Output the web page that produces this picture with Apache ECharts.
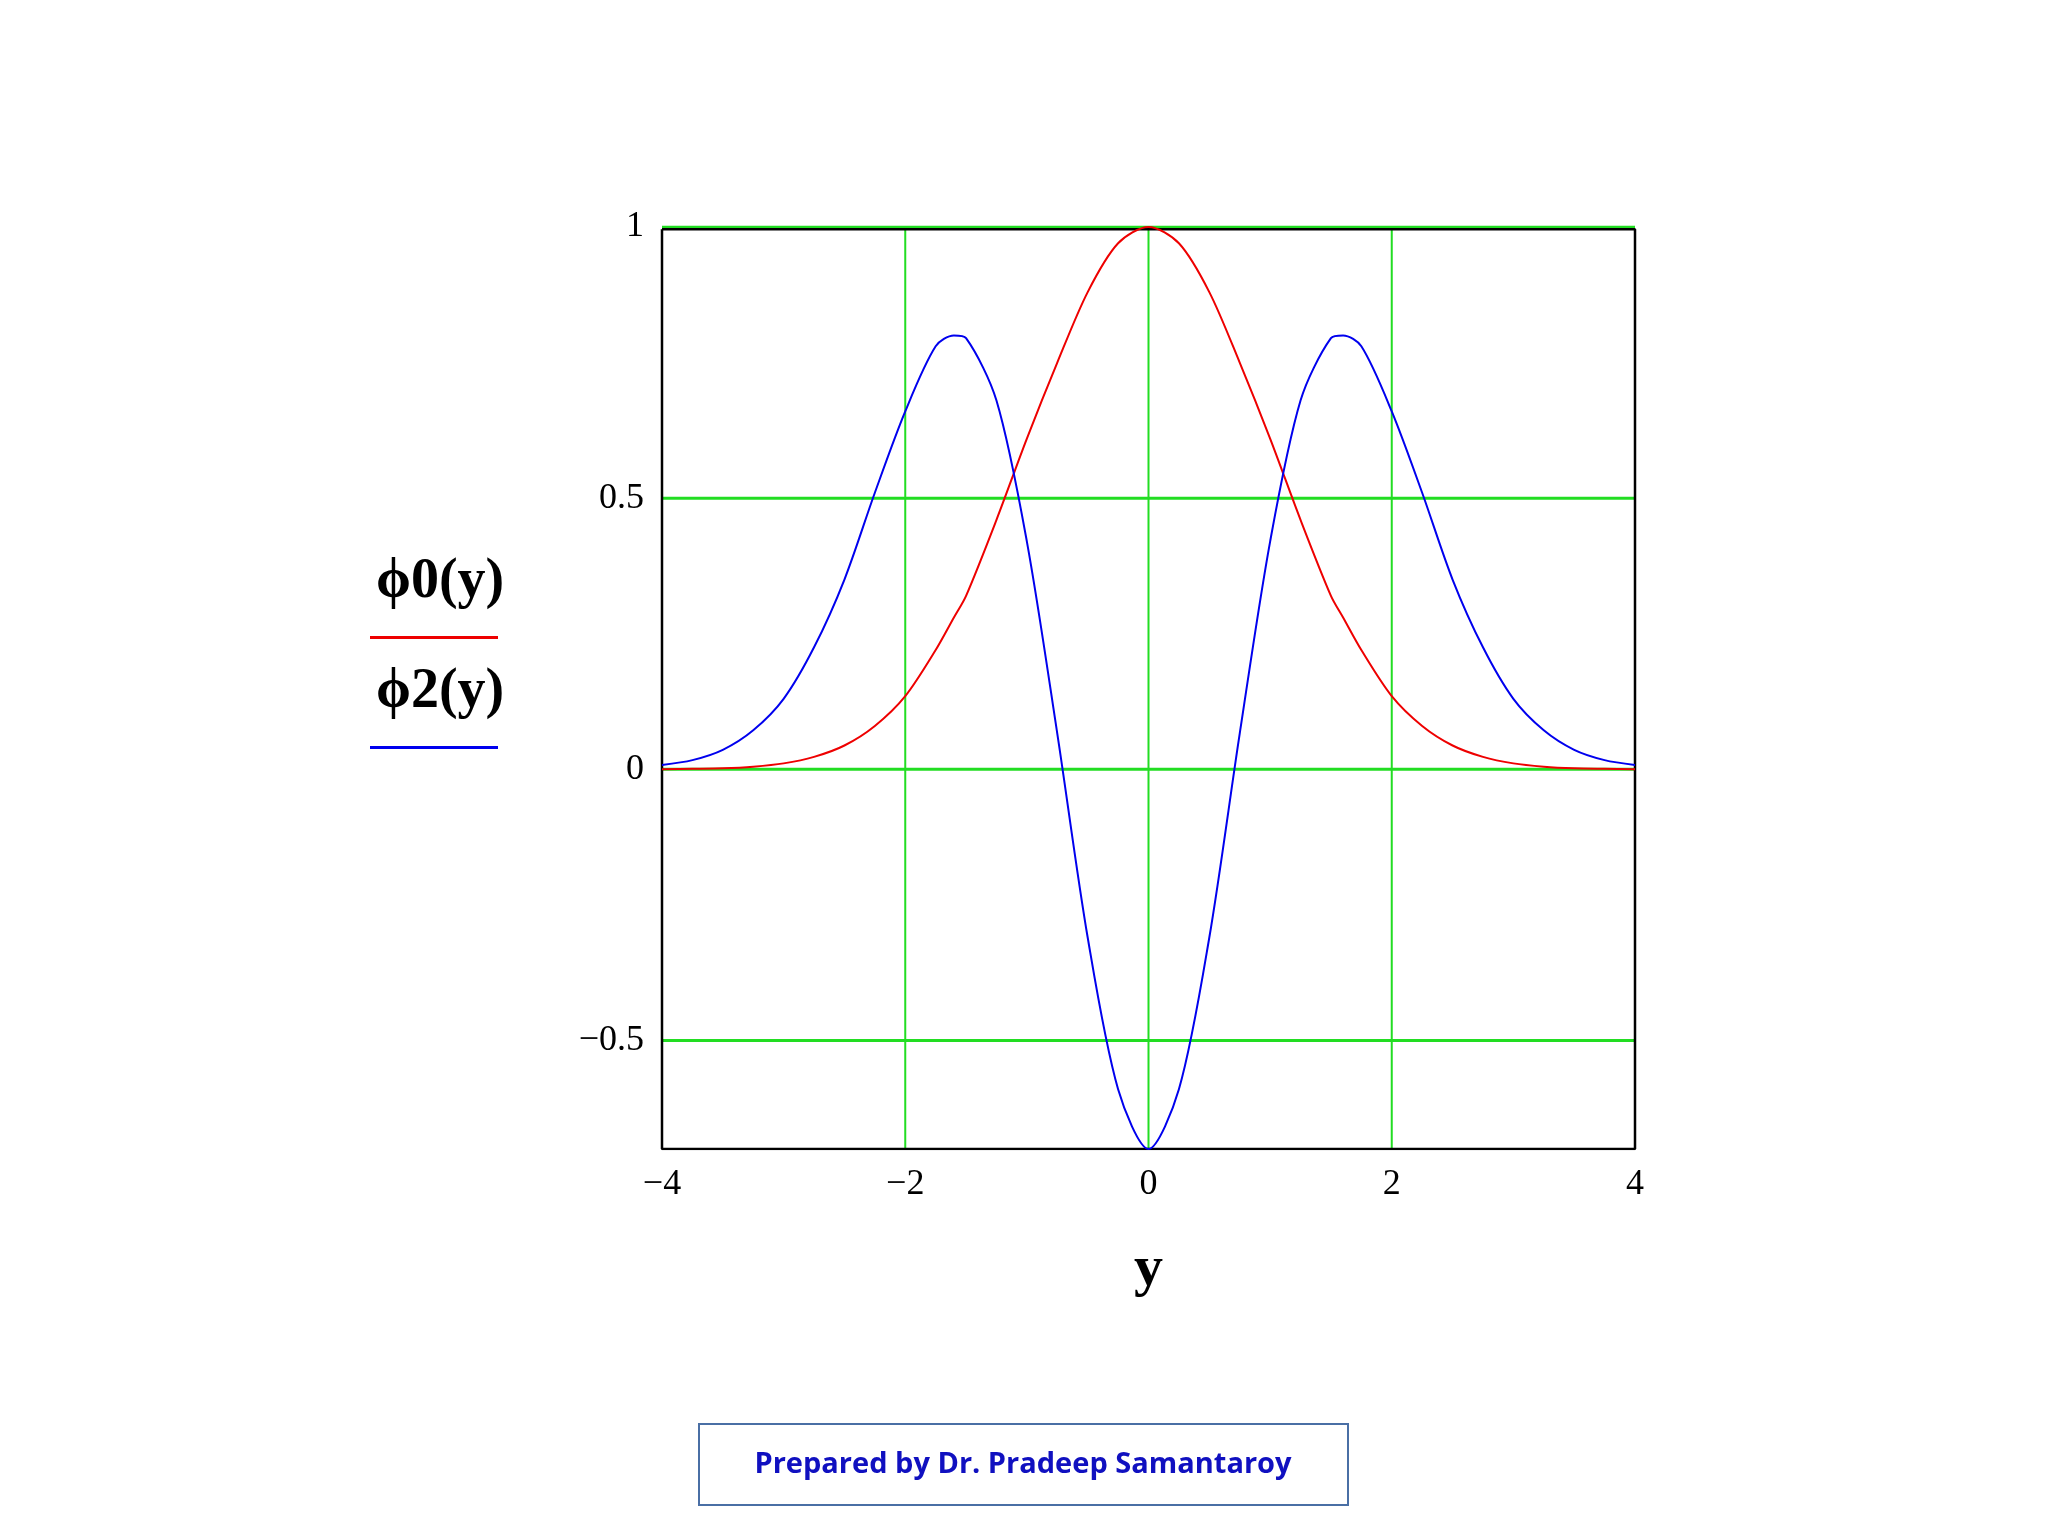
<!DOCTYPE html>
<html><head><meta charset="utf-8">
<script src="https://cdn.jsdelivr.net/npm/echarts@6/dist/echarts.min.js"></script>
<style>html,body{margin:0;padding:0;background:#fff}#c{width:2048px;height:1536px}</style>
</head><body><div id="c"></div>
<script>
const yVals = [-4,-3.75,-3.5,-3.25,-3,-2.75,-2.5,-2.25,-2,-1.75,-1.6,-1.5,-1.25,-1,-0.75,-0.5,-0.25,0,0.25,0.5,0.75,1,1.25,1.5,1.6,1.75,2,2.25,2.5,2.75,3,3.25,3.5,3.75,4];
const phi0Half = [1,0.97,0.88,0.75,0.61,0.46,0.32,0.28,0.22,0.135,0.08,0.044,0.023,0.011,0.005,0.002,0.001,0.0003];
const phi2Half = [-0.70,-0.59,-0.31,0.066,0.42,0.68,0.795,0.80,0.78,0.66,0.51,0.35,0.225,0.13,0.072,0.036,0.017,0.008];
const phi0 = phi0Half.slice(1).reverse().concat(phi0Half);
const phi2 = phi2Half.slice(1).reverse().concat(phi2Half);
const xGrid = [-2,0,2];
const yTicks = [-0.5,0,0.5,1];

const chart = echarts.init(document.getElementById('c'));
const serif = 'Liberation Serif';
const fmt = v=>String(v).replace('-','\u2212');
chart.setOption({
  animation:false,
  grid:{left:662,right:413,top:227,bottom:387},
  xAxis:{type:'value',min:-4,max:4,interval:2,
    name:'y',nameLocation:'middle',nameGap:92,
    nameTextStyle:{fontFamily:serif,fontWeight:'bold',fontSize:58,color:'#000'},
    axisLine:{show:false},axisTick:{show:false},
    axisLabel:{fontFamily:serif,fontSize:36,color:'#000',margin:18,formatter:fmt},
    splitLine:{show:false}},
  yAxis:{type:'value',min:-0.7,max:1,
    axisLine:{show:false},axisTick:{show:false},
    axisLabel:{fontFamily:serif,fontSize:36,color:'#000',margin:18,customValues:yTicks,formatter:fmt},
    splitLine:{show:false}},
  series:[
    ...yTicks.map(t=>({type:'line',data:[[-4,t],[4,t]],showSymbol:false,silent:true,
      lineStyle:{color:'#22dd22',width:3},z:1})),
    ...xGrid.map(t=>({type:'line',data:[[t,-0.7],[t,1]],showSymbol:false,silent:true,
      lineStyle:{color:'#22dd22',width:2},z:1})),
    {type:'line',data:[[-4,0.996],[-4,-0.7],[4,-0.7],[4,0.996],[-4,0.996]],showSymbol:false,silent:true,
      lineStyle:{color:'#000',width:2.5},z:2},
    {name:'phi0',type:'line',data:yVals.map((x,i)=>[x,phi0[i]]),smooth:0.3,showSymbol:false,
     lineStyle:{color:'#ee0000',width:2},z:3},
    {name:'phi2',type:'line',data:yVals.map((x,i)=>[x,phi2[i]]),smooth:0.3,showSymbol:false,
     lineStyle:{color:'#0000ee',width:2},z:4}
  ],
  graphic:[
    {type:'text',left:376,top:555,style:{text:'\u03d50(y)',fontFamily:serif,fontWeight:'bold',fontSize:56,fill:'#000'}},
    {type:'rect',shape:{x:370,y:636,width:128,height:3},style:{fill:'#ee0000'}},
    {type:'text',left:376,top:665,style:{text:'\u03d52(y)',fontFamily:serif,fontWeight:'bold',fontSize:56,fill:'#000'}},
    {type:'rect',shape:{x:370,y:746,width:128,height:3},style:{fill:'#0000ee'}},
    {type:'rect',shape:{x:699,y:1424,width:649,height:81},style:{fill:'#fff',stroke:'#4a6fa5',lineWidth:2}},
    {type:'text',x:1023,y:1465,style:{text:'Prepared by Dr. Pradeep Samantaroy',fontFamily:'Open Sans',fontWeight:'bold',fontSize:29,fill:'#1010c0',align:'center',verticalAlign:'middle'}}
  ]
});
</script></body></html>
